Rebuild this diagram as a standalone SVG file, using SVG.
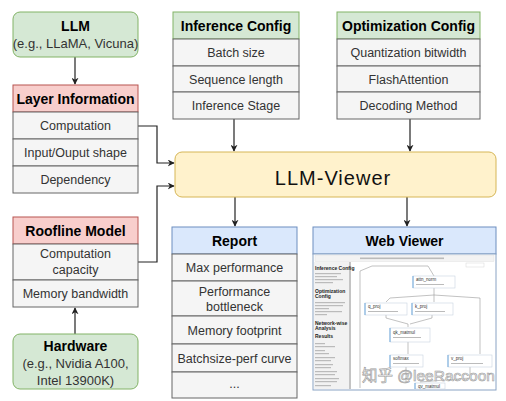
<svg xmlns="http://www.w3.org/2000/svg" width="506" height="401" viewBox="0 0 506 401">
<style>
.bg{fill:#ffffff}
.green{fill:#d5e8d4;stroke:#82b366;stroke-width:1}
.red{fill:#f8cecc;stroke:#b85450;stroke-width:1}
.blue{fill:#dae8fc;stroke:#6c8ebf;stroke-width:1}
.yellow{fill:#fff2cc;stroke:#d6b656;stroke-width:1}
.row{fill:#f5f5f5;stroke:#666666;stroke-width:1}
.hd{font-family:"Liberation Sans",Arial,sans-serif;font-weight:bold;font-size:14px;fill:#000;text-anchor:middle}
.tx{font-family:"Liberation Sans",Arial,sans-serif;font-size:12.5px;fill:#333;text-anchor:middle}
.sub{font-family:"Liberation Sans",Arial,sans-serif;font-size:13px;fill:#333;text-anchor:middle}
.big{font-family:"Liberation Sans",Arial,sans-serif;font-size:20px;letter-spacing:1px;fill:#111;text-anchor:middle}
.conn{fill:none;stroke:#222;stroke-width:1.2}
.tiny{font-family:"Liberation Sans",Arial,sans-serif;font-size:4.5px;fill:#333}
.tinyb{font-family:"Liberation Sans",Arial,sans-serif;font-size:5px;font-weight:bold;fill:#222}
.nd{fill:#fff;stroke:#c8d4e0;stroke-width:0.6}
.ndl{stroke:#6fa8dc;stroke-width:1}
.ge{fill:none;stroke:#999;stroke-width:0.6}
.ln{fill:#bbb}
.wm{font-family:"Liberation Sans","Noto Sans CJK SC",sans-serif;font-size:15.5px;fill:#f4f4f4;stroke:#9a9a9a;stroke-width:0.6}
</style>
<defs>
<marker id="arr" viewBox="0 0 10 10" refX="9" refY="5" markerWidth="7" markerHeight="7" orient="auto" markerUnits="userSpaceOnUse">
<path d="M0,0 L10,5 L0,10 L3,5 z" fill="#222"/>
</marker>
</defs>
<rect class="bg" x="0" y="0" width="506" height="401"/>

<g id="connectors">
<path class="conn" d="M75,57 L75,84" marker-end="url(#arr)"/>
<path class="conn" d="M75,334 L75,308" marker-end="url(#arr)"/>
<path class="conn" d="M138,126 L157,126 L157,163 L174,163" marker-end="url(#arr)"/>
<path class="conn" d="M138,262 L157,262 L157,186 L174,186" marker-end="url(#arr)"/>
<path class="conn" d="M234,119 L234,151" marker-end="url(#arr)"/>
<path class="conn" d="M410,119 L410,151" marker-end="url(#arr)"/>
<path class="conn" d="M235,197 L235,226" marker-end="url(#arr)"/>
<path class="conn" d="M407,197 L407,226" marker-end="url(#arr)"/>
</g>

<g id="llm">
<rect class="green" x="13" y="12" width="125" height="45" rx="7"/>
<text class="hd" x="75.5" y="31">LLM</text>
<text class="sub" x="75.5" y="48">(e.g., LLaMA, Vicuna)</text>
</g>

<g id="layer-information">
<rect class="red" x="13" y="85" width="125" height="27"/>
<text class="hd" x="75.5" y="103.5">Layer Information</text>
<rect class="row" x="13" y="112" width="125" height="27"/>
<text class="tx" x="75.5" y="130">Computation</text>
<rect class="row" x="13" y="139" width="125" height="27"/>
<text class="tx" x="75.5" y="157">Input/Ouput shape</text>
<rect class="row" x="13" y="166" width="125" height="27"/>
<text class="tx" x="75.5" y="184">Dependency</text>
</g>

<g id="roofline-model">
<rect class="red" x="13" y="217" width="125" height="27"/>
<text class="hd" x="75.5" y="235.5">Roofline Model</text>
<rect class="row" x="13" y="244" width="125" height="36"/>
<text class="tx" x="75.5" y="258">Computation</text>
<text class="tx" x="75.5" y="274">capacity</text>
<rect class="row" x="13" y="280" width="125" height="27"/>
<text class="tx" x="75.5" y="298">Memory bandwidth</text>
</g>

<g id="hardware">
<rect class="green" x="13" y="334" width="125" height="55" rx="7"/>
<text class="hd" x="75.5" y="351">Hardware</text>
<text class="sub" x="75.5" y="368">(e.g., Nvidia A100,</text>
<text class="sub" x="75.5" y="385">Intel 13900K)</text>
</g>

<g id="inference-config">
<rect class="green" x="173" y="12" width="126" height="27"/>
<text class="hd" x="236" y="30.5">Inference Config</text>
<rect class="row" x="173" y="39" width="126" height="27"/>
<text class="tx" x="236" y="57">Batch size</text>
<rect class="row" x="173" y="66" width="126" height="26"/>
<text class="tx" x="236" y="83.5">Sequence length</text>
<rect class="row" x="173" y="92" width="126" height="27"/>
<text class="tx" x="236" y="110">Inference Stage</text>
</g>

<g id="optimization-config">
<rect class="green" x="337" y="12" width="143" height="27"/>
<text class="hd" x="408.5" y="30.5">Optimization Config</text>
<rect class="row" x="337" y="39" width="143" height="27"/>
<text class="tx" x="408.5" y="57">Quantization bitwidth</text>
<rect class="row" x="337" y="66" width="143" height="26"/>
<text class="tx" x="408.5" y="83.5">FlashAttention</text>
<rect class="row" x="337" y="92" width="143" height="27"/>
<text class="tx" x="408.5" y="110">Decoding Method</text>
</g>

<g id="llm-viewer">
<rect class="yellow" x="175" y="152" width="321" height="45" rx="7"/>
<text class="big" x="333" y="185">LLM-Viewer</text>
</g>

<g id="report">
<rect class="blue" x="172" y="227" width="125" height="27"/>
<text class="hd" x="234.5" y="245.5">Report</text>
<rect class="row" x="172" y="254" width="125" height="27"/>
<text class="tx" x="234.5" y="272">Max performance</text>
<rect class="row" x="172" y="281" width="125" height="35"/>
<text class="tx" x="234.5" y="296">Performance</text>
<text class="tx" x="234.5" y="311">bottleneck</text>
<rect class="row" x="172" y="316" width="125" height="28"/>
<text class="tx" x="234.5" y="334.5">Memory footprint</text>
<rect class="row" x="172" y="344" width="125" height="28"/>
<text class="tx" x="234.5" y="362.5">Batchsize-perf curve</text>
<rect class="row" x="172" y="372" width="125" height="26"/>
<text class="tx" x="234.5" y="388">...</text>
</g>

<g id="web-viewer">
<rect class="blue" x="313" y="227" width="183" height="27"/>
<text class="hd" x="404.5" y="245.5">Web Viewer</text>
<rect x="313" y="254" width="183" height="136" fill="#ffffff" stroke="#8aa3c4" stroke-width="1"/>
<rect x="315" y="255.5" width="179" height="6" fill="#f3f3f3" stroke="#ddd" stroke-width="0.4"/>
<rect x="360" y="257.5" width="84" height="1.6" class="ln"/>
<rect x="466" y="263" width="18" height="4" fill="#fff" stroke="#ccc" stroke-width="0.4"/>
<rect x="314" y="262" width="35" height="127" fill="#f2f2f2"/>
<rect x="349" y="262" width="2" height="127" fill="#c4c4c4"/>
<text class="tinyb" x="315" y="270">Inference Config</text>
<rect x="315" y="273" width="26" height="1.2" class="ln"/>
<rect x="315" y="276" width="22" height="1.2" class="ln"/>
<rect x="315" y="279" width="28" height="1.2" class="ln"/>
<rect x="315" y="282" width="18" height="1.2" class="ln"/>
<text class="tinyb" x="315" y="293">Optimization</text>
<text class="tinyb" x="315" y="298">Config</text>
<rect x="315" y="302" width="30" height="1.2" class="ln"/>
<rect x="315" y="305" width="28" height="1.2" class="ln"/>
<rect x="315" y="308" width="14" height="1.2" class="ln"/>
<rect x="315" y="311" width="27" height="1.2" class="ln"/>
<rect x="315" y="314" width="12" height="1.2" class="ln"/>
<text class="tinyb" x="315" y="325">Network-wise</text>
<text class="tinyb" x="315" y="330">Analysis</text>
<text class="tinyb" x="315" y="338">Results</text>
<rect x="315" y="343" width="10" height="1.2" class="ln"/>
<rect x="315" y="346" width="20" height="1.2" class="ln"/>
<rect x="315" y="350" width="10" height="1.2" class="ln"/>
<rect x="315" y="353" width="14" height="1.2" class="ln"/>
<rect x="315" y="357" width="20" height="1.2" class="ln"/>
<rect x="315" y="360" width="16" height="1.2" class="ln"/>
<rect x="315" y="364" width="18" height="1.2" class="ln"/>
<rect x="315" y="367" width="16" height="1.2" class="ln"/>
<rect x="315" y="371" width="22" height="1.2" class="ln"/>
<rect x="315" y="374" width="20" height="1.2" class="ln"/>
<rect x="315" y="378" width="24" height="1.2" class="ln"/>
<rect x="315" y="381" width="22" height="1.2" class="ln"/>
<rect x="315" y="385" width="16" height="1.2" class="ln"/>
<path class="ge" d="M360,388 L360,271 L372,266 L428,266 L434,276"/>
<path class="ge" d="M434,288 L434,295 L390,298 L386,302"/>
<path class="ge" d="M434,295 L434,302"/>
<path class="ge" d="M434,295 L480,298 L480,354"/>
<path class="ge" d="M386,315 L386,318 L408,324 L408,327"/>
<path class="ge" d="M432,315 L432,318 L410,324"/>
<path class="ge" d="M408,342 L408,354"/>
<path class="ge" d="M406,367 L406,382"/>
<path class="ge" d="M470,367 L470,378 L420,382"/>
<rect class="nd" x="413" y="276" width="42" height="12"/>
<line class="ndl" x1="413" y1="276" x2="413" y2="288"/>
<text class="tiny" x="416" y="281" fill="#224">attn_norm</text>
<rect x="416" y="284" width="28" height="1" fill="#bbb"/>
<rect class="nd" x="365" y="303" width="42" height="12"/>
<line class="ndl" x1="365" y1="303" x2="365" y2="315"/>
<text class="tiny" x="368" y="308">q_proj</text>
<rect x="368" y="311" width="30" height="1" fill="#bbb"/>
<rect class="nd" x="412" y="303" width="41" height="12"/>
<line class="ndl" x1="412" y1="303" x2="412" y2="315"/>
<text class="tiny" x="415" y="308">k_proj</text>
<rect x="415" y="311" width="30" height="1" fill="#bbb"/>
<rect class="nd" x="390" y="328" width="40" height="14"/>
<line class="ndl" x1="390" y1="328" x2="390" y2="342"/>
<text class="tiny" x="393" y="334">qk_matmul</text>
<rect x="393" y="337" width="28" height="1" fill="#bbb"/>
<rect class="nd" x="390" y="355" width="33" height="12"/>
<line class="ndl" x1="390" y1="355" x2="390" y2="367"/>
<text class="tiny" x="393" y="360">softmax</text>
<rect x="393" y="363" width="26" height="1" fill="#bbb"/>
<rect class="nd" x="448" y="355" width="44" height="12"/>
<line class="ndl" x1="448" y1="355" x2="448" y2="367"/>
<text class="tiny" x="451" y="360">v_proj</text>
<rect x="451" y="363" width="32" height="1" fill="#bbb"/>
<rect class="nd" x="415" y="383" width="30" height="6"/>
<line class="ndl" x1="415" y1="383" x2="415" y2="389"/>
<text class="tiny" x="418" y="388.3">qv_matmul</text>
<text class="wm" x="362" y="381">知乎 @leeRaccoon</text>
</g>
</svg>
